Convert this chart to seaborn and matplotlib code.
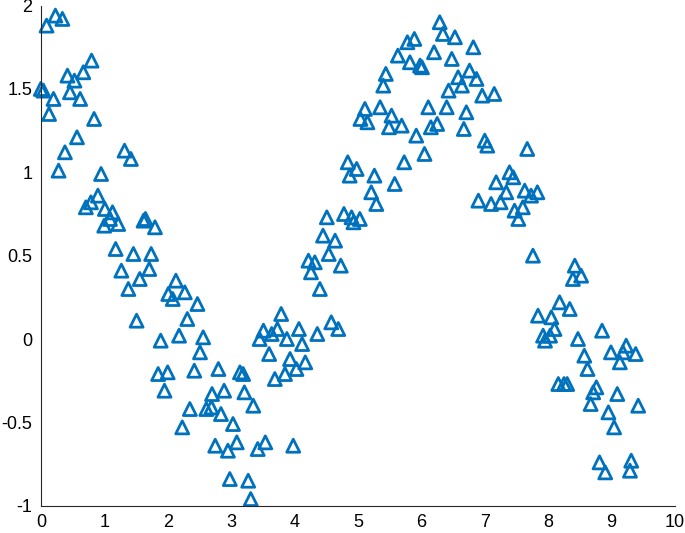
import matplotlib
matplotlib.use("Agg")
import matplotlib.pyplot as plt
import seaborn as sns

# values
x_vals = [
    0.23, 0.34, 0.09, 0.80, 0.42, 0.67, 0.53, 0.00, 0.04, 0.46, 0.62, 0.20, 0.13, 0.84, 0.57, 0.38, 1.32,
    1.42, 0.28, 0.95, 0.90, 0.79, 0.71, 1.01, 1.13, 1.09, 1.22, 1.00, 1.62, 1.65, 1.80, 1.18, 1.46, 1.74,
    1.27, 1.71, 1.56, 1.38, 2.13, 2.01, 2.27, 2.08, 1.51, 2.31, 1.89, 2.18, 1.85, 2.00, 1.95, 2.35, 2.23,
    4.22, 4.32, 4.54, 4.73, 4.26, 4.40, 2.47, 3.79, 3.51, 3.64, 3.73, 4.07, 4.58, 4.69, 4.36, 3.45, 3.88,
    4.12, 2.56, 2.51, 3.60, 3.93, 4.17, 4.03, 3.85, 3.69, 2.42, 2.80, 3.14, 3.19, 2.70, 2.89, 3.21, 3.35,
    2.61, 2.69, 2.84, 3.03, 2.75, 2.95, 3.09, 3.42, 3.54, 3.98, 2.98, 3.27, 3.31,
    4.51, 4.78, 4.45, 4.64,
    6.29, 6.34, 6.53, 5.78, 5.89, 6.82, 6.20, 5.63, 5.82, 6.48, 5.98, 6.01, 6.76, 6.58, 6.87, 5.44, 5.40,
    6.64, 6.43, 6.96, 7.15, 5.11, 5.35, 6.11, 6.40, 5.53, 5.04, 5.15, 6.71, 5.69, 5.49, 6.25, 6.15, 6.67,
    5.92, 7.00, 7.04, 6.05, 5.73, 4.84, 4.98, 4.87, 5.26, 5.58, 5.21, 5.29, 4.90, 5.03, 4.93, 7.18, 6.90,
    7.10, 7.25,
    7.67, 7.39, 7.45, 7.34, 7.63, 7.73, 7.83, 7.47, 7.60, 7.53, 7.76,
    8.42, 8.52, 8.39, 8.18, 8.34, 7.84, 8.05, 8.10, 8.85, 7.92, 8.03, 7.95, 8.47, 8.57, 8.99, 9.23, 9.18,
    9.38, 9.13, 8.62, 8.16, 8.25, 8.30, 8.76, 8.71, 9.09, 9.42, 8.67, 8.95, 9.04, 8.81, 8.90, 9.31, 9.29,
]
y_vals = [
    1.94, 1.92, 1.88, 1.67, 1.58, 1.60, 1.55, 1.50, 1.49, 1.48, 1.44, 1.44, 1.35, 1.32, 1.21, 1.12, 1.13,
    1.08, 1.01, 0.99, 0.86, 0.82, 0.79, 0.78, 0.76, 0.72, 0.69, 0.68, 0.71, 0.72, 0.67, 0.54, 0.51, 0.51,
    0.41, 0.42, 0.36, 0.30, 0.35, 0.27, 0.28, 0.24, 0.11, 0.12, -0.01, 0.02, -0.21, -0.20, -0.31, -0.42, -0.53,
    0.47, 0.46, 0.51, 0.44, 0.40, 0.30, 0.21, 0.15, 0.05, 0.03, 0.06, 0.06, 0.10, 0.06, 0.03, 0.00, 0.00,
    -0.03, 0.01, -0.08, -0.09, -0.12, -0.14, -0.18, -0.21, -0.24, -0.19, -0.18, -0.20, -0.21, -0.33, -0.31, -0.32, -0.40,
    -0.42, -0.41, -0.45, -0.51, -0.64, -0.67, -0.62, -0.66, -0.62, -0.64, -0.84, -0.85, -0.96,
    0.73, 0.75, 0.62, 0.59,
    1.90, 1.83, 1.81, 1.78, 1.80, 1.75, 1.72, 1.70, 1.66, 1.68, 1.64, 1.63, 1.61, 1.57, 1.56, 1.59, 1.52,
    1.52, 1.49, 1.46, 1.47, 1.38, 1.39, 1.39, 1.39, 1.34, 1.32, 1.30, 1.36, 1.28, 1.27, 1.29, 1.27, 1.26,
    1.22, 1.19, 1.16, 1.11, 1.06, 1.06, 1.02, 0.98, 0.98, 0.93, 0.88, 0.81, 0.73, 0.72, 0.70, 0.94, 0.83,
    0.81, 0.82,
    1.14, 1.00, 0.97, 0.88, 0.89, 0.86, 0.88, 0.77, 0.79, 0.72, 0.50,
    0.44, 0.38, 0.36, 0.22, 0.18, 0.14, 0.13, 0.06, 0.05, 0.02, 0.02, -0.01, 0.00, -0.10, -0.08, -0.04, -0.08,
    -0.09, -0.14, -0.18, -0.27, -0.27, -0.27, -0.29, -0.32, -0.33, -0.40, -0.39, -0.44, -0.53, -0.74, -0.80, -0.73, -0.79,
]

x_ticks = [0, 1, 2, 3, 4, 5, 6, 7, 8, 9, 10]
y_ticks = [-1, -0.5, 0, 0.5, 1, 1.5, 2]
y_tick_labels = ["-1", "-0.5", "0", "0.5", "1", "1.5", "2"]

sns.set_style("white")
plt.rcParams["font.family"] = ["Liberation Sans", "DejaVu Sans"]

fig = plt.figure(figsize=(6.85, 5.33), dpi=100)
ax = fig.add_axes([0.0596, 0.0512, 0.9258, 0.9383])

sns.scatterplot(x=x_vals, y=y_vals, marker="^", s=88, ax=ax)
pts = ax.collections[0]
pts.set_facecolor("none")
pts.set_edgecolor("#0072BD")
pts.set_linewidth(2.0)

ax.set_xlim(0, 10)
ax.set_ylim(-1, 2)
ax.set_xticks(x_ticks)
ax.set_xticklabels([str(t) for t in x_ticks])
ax.set_yticks(y_ticks)
ax.set_yticklabels(y_tick_labels)

for side in ["top", "right"]:
    ax.spines[side].set_visible(False)
for side in ["left", "bottom"]:
    ax.spines[side].set_color("#262626")
    ax.spines[side].set_linewidth(0.8)
ax.tick_params(axis="both", direction="in", length=5, width=0.8, color="#262626",
               labelsize=13, labelcolor="#000000")
ax.tick_params(axis="x", pad=6)
ax.tick_params(axis="y", pad=6)
pts.set_clip_on(False)

fig.savefig("out.png", dpi=100)
